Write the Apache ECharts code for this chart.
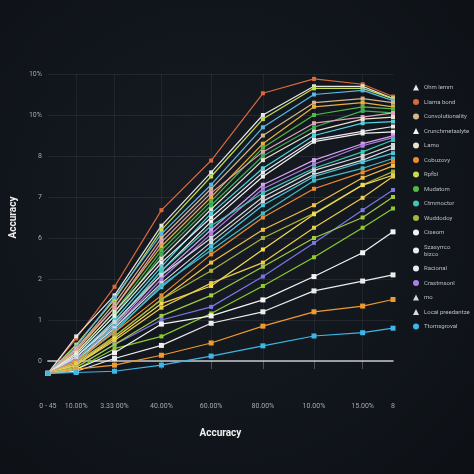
<!DOCTYPE html>
<html>
<head>
<meta charset="utf-8">
<script src="https://cdn.jsdelivr.net/npm/echarts@6/dist/echarts.min.js"></script>
<style>
  html, body { margin: 0; padding: 0; background: #10141a; }
  #chart { width: 474px; height: 474px; }
</style>
</head>
<body>
<div id="chart"></div>
<script>
// x levels (uneven steps, as in the picture) and their tick texts
var xLevels = [0, 8.2, 19.3, 32.9, 47.3, 62.3, 77.1, 91.2, 100];
var xLabels = ['0 - 45', '10.00%', '3.33 00%', '40.00%', '60.00%', '80.00%', '10.00%', '15.00%', '8'];
var yLabels = ['0', '1', '2', '6', '7', '8', '10%', '10%'];

// one array per run, top of the fan first
var run01 = [-0.3, 0.55, 1.81, 3.68, 4.89, 6.53, 6.88, 6.75, 6.45];
var run02 = [-0.3, 0.6, 1.6, 3.3, 4.6, 6.0, 6.7, 6.7, 6.4];
var run03 = [-0.3, 0.4, 1.5, 3.2, 4.5, 5.9, 6.65, 6.65, 6.4];
var run04 = [-0.3, 0.35, 1.55, 3.1, 4.3, 5.7, 6.5, 6.6, 6.35];
var run05 = [-0.3, 0.3, 1.4, 3.0, 4.2, 5.5, 6.3, 6.4, 6.3];
var run06 = [-0.3, 0.25, 1.3, 2.8, 4.0, 5.3, 6.2, 6.3, 6.2];
var run07 = [-0.3, 0.2, 1.2, 2.7, 3.9, 5.2, 6.0, 6.2, 6.15];
var run08 = [-0.3, 0.15, 1.1, 2.6, 3.8, 5.0, 5.7, 6.1, 6.05];
var run09 = [-0.3, 0.3, 1.3, 2.9, 4.1, 5.1, 5.8, 5.95, 6.05];
var run10 = [-0.3, 0.2, 1.2, 2.5, 3.7, 4.9, 5.6, 5.9, 5.95];
var run11 = [-0.3, 0.1, 1.0, 2.3, 3.6, 4.7, 5.5, 5.8, 5.84];
var run12 = [-0.3, 0.15, 1.1, 2.4, 3.5, 4.6, 5.4, 5.6, 5.72];
var run13 = [-0.3, 0.1, 0.9, 2.2, 3.4, 4.5, 5.35, 5.55, 5.59];
var run14 = [-0.3, 0.05, 0.85, 2.1, 3.2, 4.3, 4.9, 5.3, 5.49];
var run15 = [-0.3, 0.05, 0.8, 2.0, 3.1, 4.2, 4.8, 5.25, 5.45];
var run16 = [-0.3, 0.0, 0.9, 2.2, 3.3, 4.1, 4.7, 5.1, 5.39];
var run17 = [-0.3, 0.1, 0.95, 2.1, 3.0, 4.0, 4.65, 5.0, 5.27];
var run18 = [-0.3, 0.0, 0.8, 1.9, 2.9, 3.9, 4.55, 4.9, 5.19];
var run19 = [-0.3, -0.05, 0.75, 1.8, 2.8, 3.8, 4.5, 4.85, 5.07];
var run20 = [-0.3, 0.0, 0.7, 1.85, 2.7, 3.6, 4.4, 4.7, 4.94];
var run21 = [-0.3, 0.0, 0.7, 1.6, 2.6, 3.5, 4.2, 4.6, 4.86];
var run22 = [-0.3, -0.05, 0.6, 1.5, 2.4, 3.2, 3.8, 4.47, 4.76];
var run23 = [-0.3, -0.1, 0.6, 1.5, 2.2, 3.0, 3.6, 4.3, 4.62];
var run24 = [-0.3, -0.1, 0.55, 1.4, 1.83, 2.72, 3.58, 4.29, 4.53];
var run25 = [-0.3, -0.1, 0.5, 1.3, 1.9, 2.4, 3.25, 3.98, 4.5];
var run26 = [-0.3, -0.15, 0.4, 1.0, 1.32, 2.06, 2.88, 3.68, 4.17];
var run27 = [-0.3, -0.15, 0.4, 1.1, 1.6, 2.3, 3.0, 3.5, 4.0];
var run28 = [-0.3, -0.2, 0.3, 0.6, 1.16, 1.83, 2.53, 3.25, 3.72];
var run29 = [-0.3, -0.2, 0.2, 0.9, 1.1, 1.49, 2.06, 2.64, 3.15];
var run30 = [-0.3, -0.25, 0.06, 0.38, 0.92, 1.2, 1.71, 1.95, 2.1];
var run31 = [-0.3, -0.2, -0.1, 0.14, 0.44, 0.85, 1.2, 1.34, 1.5];
var run32 = [-0.3, -0.28, -0.25, -0.1, 0.12, 0.37, 0.61, 0.69, 0.8];

var runs = [run01, run02, run03, run04, run05, run06, run07, run08, run09, run10,
            run11, run12, run13, run14, run15, run16, run17, run18, run19, run20,
            run21, run22, run23, run24, run25, run26, run27, run28, run29, run30,
            run31, run32];

var runNames = ['Llama bond', 'Ohm lemm', 'Rpfbl', 'run 4', 'Convolutionality', 'run 6',
                'Mudatom', 'run 8', 'run 9', 'Lamo', 'run 11', 'Racional', 'Crunchmetaslyte',
                'run 14', 'Crastmsonl', 'Ctmmoctor', 'mo', 'Local preedantze', 'run 19', 'run 20',
                'Cobuzovy', 'run 22', 'Wuddodoy', 'run 24', 'run 25', 'run 26',
                'run 27', 'run 28', 'Ciseom', 'Szasyrrco\nbizco', 'run 31', 'Ttomsgroval'];

// legend order (top to bottom) and marker shapes
var legendNames = ['Ohm lemm', 'Llama bond', 'Convolutionality', 'Crunchmetaslyte', 'Lamo',
                   'Cobuzovy', 'Rpfbl', 'Mudatom', 'Ctmmoctor', 'Wuddodoy', 'Ciseom',
                   'Szasyrrco\nbizco', 'Racional', 'Crastmsonl', 'mo', 'Local preedantze',
                   'Ttomsgroval'];
var legendIcons = ['triangle', 'circle', 'circle', 'triangle', 'circle', 'circle', 'circle',
                   'circle', 'circle', 'circle', 'circle', 'circle', 'circle', 'circle',
                   'triangle', 'triangle', 'circle'];

// colours per run
var palette = ['#d9683c', '#e6e6e6', '#c4dc52', '#5ab8e6', '#d8b48c', '#e8b040',
               '#52b848', '#3fae5a', '#e4a2bc', '#eae2d0', '#52d4e4', '#ececec',
               '#f2f2f2', '#d6a4ec', '#b07ce8', '#3cc8b4', '#d4d6dc', '#dcdcdc',
               '#4cc6e0', '#44bcc4', '#ec8c2e', '#f2c04a', '#a8b43c', '#f4dc54',
               '#eacd4c', '#7a78e0', '#a2cc44', '#8ccc2c', '#f4f4f4', '#ececec',
               '#ee9a30', '#3eb6e6'];

var series = [];
for (var i = 0; i < runs.length; i++) {
    var pts = [];
    for (var j = 0; j < xLevels.length; j++) {
        pts.push([xLevels[j], runs[i][j]]);
    }
    series.push({
        name: runNames[i],
        type: 'line',
        data: pts,
        clip: false,
        symbol: 'rect',
        symbolSize: (i >= 28 ? 5 : 4),
        lineStyle: { width: 1.2, color: palette[i] },
        itemStyle: { color: palette[i] }
    });
}

var legendData = [];
for (var k = 0; k < legendNames.length; k++) {
    legendData.push({ name: legendNames[k], icon: legendIcons[k] });
}

var chart = echarts.init(document.getElementById('chart'));
chart.setOption({
    animation: false,
    backgroundColor: {
        type: 'radial', x: 0.45, y: 0.45, r: 0.8,
        colorStops: [{ offset: 0, color: '#171c24' }, { offset: 1, color: '#0c1015' }]
    },
    grid: { left: 40, right: 81, top: 74, bottom: 113 },
    legend: {
        orient: 'vertical',
        left: 408,
        top: 79,
        itemWidth: 6,
        itemHeight: 6,
        itemGap: 7.5,
        data: legendData,
        textStyle: { color: '#b8bcc4', fontSize: 6, fontFamily: 'Roboto', lineHeight: 7 }
    },
    xAxis: {
        type: 'value',
        min: 0,
        max: 100,
        offset: 12,
        name: 'Accuracy',
        nameLocation: 'middle',
        nameGap: 55,
        nameTextStyle: { color: '#f0f0f0', fontSize: 10, fontWeight: 'bold', fontFamily: 'Roboto' },
        axisLine: { show: true, lineStyle: { color: '#c8c8c8', width: 1.5 } },
        axisTick: {
            show: true,
            customValues: xLevels.slice(1, 8),
            length: 8,
            lineStyle: { color: 'rgba(255,255,255,0.25)' }
        },
        axisLabel: {
            customValues: xLevels,
            margin: 30,
            color: '#a4a9b0',
            fontSize: 7,
            fontFamily: 'Roboto',
            formatter: function (v) {
                for (var n = 0; n < xLevels.length; n++) {
                    if (Math.abs(xLevels[n] - v) < 0.01) {
                        return n === xLevels.length - 1 ? '{hi|' + xLabels[n] + '}' : xLabels[n];
                    }
                }
                return '';
            },
            rich: { hi: { color: '#a4a9b0', fontSize: 7, padding: [0, 0, 26, 0] } }
        },
        splitLine: { show: true, lineStyle: { color: 'rgba(255,255,255,0.06)' } }
    },
    yAxis: {
        type: 'value',
        min: 0,
        max: 7,
        interval: 1,
        name: 'Accuracy',
        nameLocation: 'middle',
        nameGap: 22,
        nameTextStyle: { color: '#f0f0f0', fontSize: 10, fontWeight: 'bold', fontFamily: 'Roboto' },
        axisLine: { show: false },
        axisTick: { show: false },
        axisLabel: {
            color: '#a4a9b0',
            fontSize: 7,
            fontFamily: 'Roboto',
            margin: 6,
            formatter: function (v) { return yLabels[Math.round(v)]; }
        },
        splitLine: { show: true, lineStyle: { color: 'rgba(255,255,255,0.07)' } }
    },
    series: series
});
</script>
</body>
</html>
